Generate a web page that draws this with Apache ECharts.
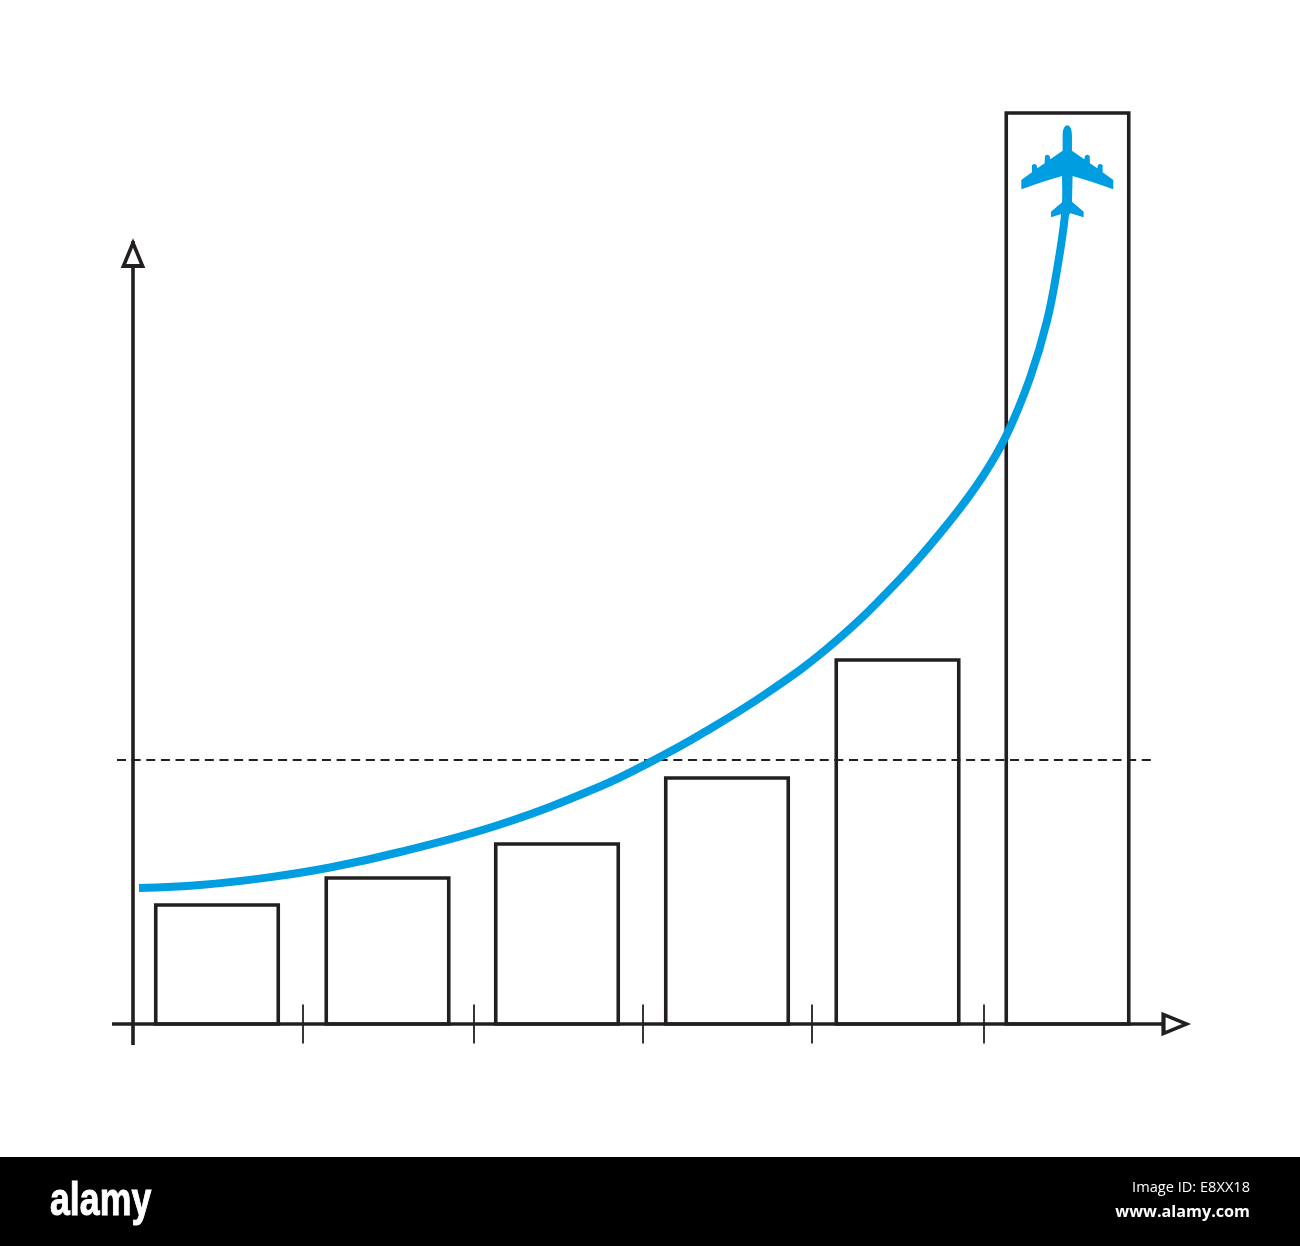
<!DOCTYPE html>
<html>
<head>
<meta charset="utf-8">
<title>chart</title>
<script src="https://cdn.jsdelivr.net/npm/echarts@6/dist/echarts.min.js"></script>
<style>
  html, body { margin: 0; padding: 0; background: #fff; }
  #main { width: 1300px; height: 1246px; }
</style>
</head>
<body>
<div id="main"></div>
<script>
// one axis unit is read as one pixel of the picture, origin where the axes cross
const barX = [84, 254.5, 424, 594, 764.5, 934.5];
const barValues = [119, 146, 180, 246, 364, 911];
const tickX = [170, 341, 510, 679, 851];
const curveX = [6, 67, 134, 197, 267, 367, 467, 522, 567, 634, 700, 767, 817, 850, 874, 897, 914, 925, 932, 934];
const curveY = [136, 139, 146.4, 156.5, 172, 199.5, 237.5, 264.4, 289.2, 331, 380.5, 445, 503, 548, 590, 646, 703, 760, 809, 844];
const dashX = [-16, 1018];
const dashY = [264, 264];
const planeAt = [934.3, 852.7];
const xArrowAt = [1042, 0];
const yArrowAt = [0, 769.5];

const BAR_WIDTH = 122.5;
const INK = '#231f20';
const BLUE = '#009ee0';
const PLANE = 'path://M202 76C210 76 216 88 216 105L216 152L253 178L255 168Q262 160 269 168L270 190L292 205L294 196Q301 188 308 196L308 217L340 240L340 268L275 245L218 228L216 305L251 335L251 352L212 340L202 348L192 340L153 352L153 335L188 305L186 228L129 245L64 268L64 240L96 217L96 196Q103 188 110 196L112 205L134 190L135 168Q142 160 149 168L151 178L188 152L188 105C188 88 194 76 202 76Z';

const zip = (a, b) => a.map((v, i) => [v, b[i]]);

// outline only, so the stroke sits on the value and the base sits on the axis
function renderBar (params, api) {
  const top = api.coord([api.value(0), api.value(1)]);
  const base = api.coord([api.value(0), 0]);
  const w = api.size([BAR_WIDTH, 0])[0];
  return {
    type: 'rect',
    shape: { x: top[0] - w / 2, y: top[1], width: w, height: base[1] - top[1] },
    style: { fill: 'none', stroke: INK, lineWidth: 3.6 }
  };
}

const myChart = echarts.init(document.getElementById('main'), null, { renderer: 'canvas' });
myChart.setOption({
  animation: false,
  backgroundColor: '#fff',
  grid: { left: 112, top: 241, width: 1075, height: 804 },
  xAxis: {
    type: 'value',
    min: -21,
    max: 1054,
    axisLine: { show: true, onZero: true, lineStyle: { color: INK, width: 3.6, cap: 'butt' } },
    axisTick: { show: false },
    axisLabel: { show: false },
    splitLine: { show: false }
  },
  yAxis: {
    type: 'value',
    min: -21,
    max: 783,
    axisLine: { show: true, onZero: true, lineStyle: { color: INK, width: 3.6, cap: 'butt' } },
    axisTick: { show: false },
    axisLabel: { show: false },
    splitLine: { show: false }
  },
  series: [
    {
      type: 'custom',
      clip: false,
      silent: true,
      renderItem: renderBar,
      encode: { x: 0, y: 1 },
      data: zip(barX, barValues),
      z: 3
    },
    {
      type: 'line',
      silent: true,
      symbol: 'none',
      data: zip(dashX, dashY),
      lineStyle: { color: INK, width: 1.8, type: [9, 5.64] },
      z: 4
    },
    {
      type: 'line',
      clip: false,
      silent: true,
      symbol: 'none',
      smooth: 0.4,
      data: zip(curveX, curveY),
      lineStyle: { color: BLUE, width: 8, cap: 'butt' },
      z: 5
    },
    {
      type: 'scatter',
      silent: true,
      symbol: 'rect',
      symbolSize: [1.8, 39],
      data: tickX.map(x => [x, 0]),
      itemStyle: { color: INK, opacity: 1 },
      z: 3
    },
    {
      type: 'scatter',
      clip: false,
      silent: true,
      symbol: 'triangle',
      symbolSize: [19, 23],
      data: [
        { value: yArrowAt },
        { value: xArrowAt, symbolRotate: -90 }
      ],
      itemStyle: { color: '#fff', borderColor: INK, borderWidth: 3.8, opacity: 1 },
      z: 6
    },
    {
      type: 'scatter',
      clip: false,
      silent: true,
      symbol: PLANE,
      symbolSize: [92, 92],
      data: [planeAt],
      itemStyle: { color: BLUE, opacity: 1 },
      z: 7
    }
  ],
  graphic: [
    { type: 'rect', z: 10, silent: true, shape: { x: 0, y: 1157, width: 1300, height: 89 }, style: { fill: '#000' } },
    {
      type: 'text', z: 11, silent: true, x: 50, y: 1202, scaleX: 0.76,
      style: { text: 'alamy', fill: '#fff', stroke: '#fff', lineWidth: 1, font: 'bold 47px "Liberation Sans"', verticalAlign: 'middle' }
    },
    {
      type: 'text', z: 11, silent: true, x: 1250, y: 1188,
      style: { text: 'Image ID: E8XX18', fill: '#fff', font: '14.6px "Open Sans"', align: 'right', verticalAlign: 'middle' }
    },
    {
      type: 'text', z: 11, silent: true, x: 1250, y: 1212,
      style: { text: 'www.alamy.com', fill: '#fff', font: 'bold 16.2px "Open Sans"', align: 'right', verticalAlign: 'middle' }
    }
  ]
});
</script>
</body>
</html>
